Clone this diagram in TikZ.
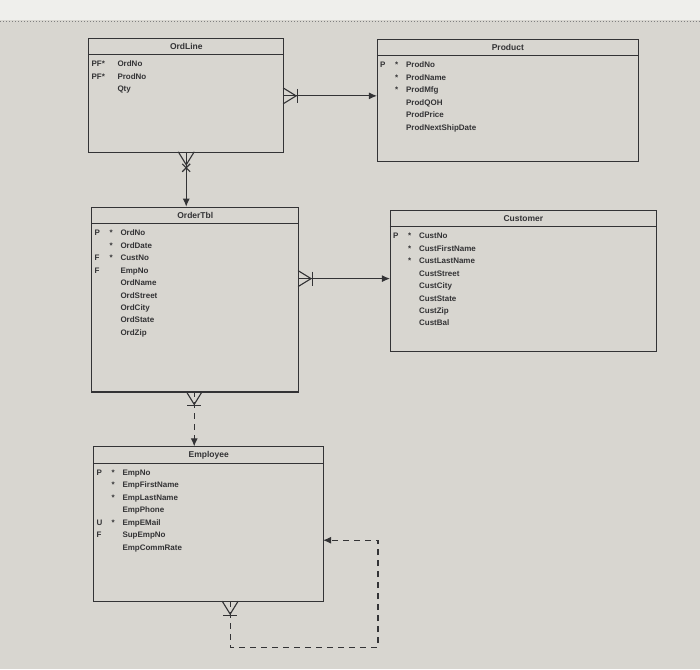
\documentclass[tikz,border=0pt]{standalone}
\usepackage{fontspec}
\setmainfont{Liberation Sans}
\usetikzlibrary{arrows.meta}
\definecolor{bg}{HTML}{D8D6D0}
\definecolor{ink}{HTML}{333335}
\tikzset{
  ebox/.style={draw=ink,line width=1.1pt,anchor=north west,inner sep=0pt},
  etext/.style={anchor=north west,inner sep=0pt,text=ink,font=\fontsize{8}{12.5}\selectfont\bfseries},
  ehead/.style={anchor=center,inner sep=0pt,text=ink,font=\fontsize{8.5}{9}\selectfont\bfseries},
  rel/.style={draw=ink,line width=1.1pt},
  reld/.style={rel,dash pattern=on 6pt off 5pt},
  tip/.style={-{Latex[length=8pt,width=7pt]}}
}
\newcommand{\erbox}[7]{%
  \node[ebox,minimum width=#4pt,minimum height=#5pt] (#1) at (#2pt,-#3pt) {};
  \draw[draw=ink,line width=1.1pt] ([yshift=-17pt]#1.north west) -- ([yshift=-17pt]#1.north east);
  \node[ehead] (#1h) at ([yshift=-9pt]#1.north) {#6};
  \node[etext] (#1t) at ([xshift=3pt,yshift=-20pt]#1.north west)
   {\begin{tabular}{@{}p{15pt}@{}p{11pt}@{}l@{}}#7\end{tabular}};
}
\begin{document}
\begin{tikzpicture}[x=1pt,y=1pt]
\fill[bg] (0,0) rectangle (700,-670);
\fill[white!60!bg] (0,0) rectangle (700,-20);
\draw[gray,dotted,line width=1pt] (0,-22) -- (700,-22);
\erbox{ordline}{88}{38}{195}{114}{OrdLine}{PF* & & OrdNo\\ PF* & & ProdNo\\ & & Qty}
\erbox{product}{377}{39}{261}{122}{Product}{P & * & ProdNo\\ & * & ProdName\\ & * & ProdMfg\\ & & ProdQOH\\ & & ProdPrice\\ & & ProdNextShipDate}
\erbox{order}{91}{207}{207}{185}{OrderTbl}{P & * & OrdNo\\ & * & OrdDate\\ F & * & CustNo\\ F & & EmpNo\\ & & OrdName\\ & & OrdStreet\\ & & OrdCity\\ & & OrdState\\ & & OrdZip}
\erbox{customer}{390}{210}{266}{141}{Customer}{P & * & CustNo\\ & * & CustFirstName\\ & * & CustLastName\\ & & CustStreet\\ & & CustCity\\ & & CustState\\ & & CustZip\\ & & CustBal}
\erbox{emp}{93}{447}{230}{155}{Employee}{P & * & EmpNo\\ & * & EmpFirstName\\ & * & EmpLastName\\ & & EmpPhone\\ U & * & EmpEMail\\ F & & SupEmpNo\\ & & EmpCommRate}
% OrdLine -> Product
\coordinate (a1) at (283,-96);
\draw[rel,tip] (a1) -- (product.west |- a1);
\draw[rel] (283,-88) -- (296,-96) -- (283,-104);
\draw[rel] (297,-89) -- (297,-103);
% OrdLine -> OrderTbl
\coordinate (a2) at (186,-152);
\draw[rel,tip] (a2) -- (order.north -| a2);
\draw[rel] (178,-152) -- (186,-165) -- (194,-152);
\draw[rel] (182,-164) -- (190,-172);\draw[rel] (190,-164) -- (182,-172);
% OrderTbl -> Customer
\coordinate (a3) at (298,-279);
\draw[rel,tip] (a3) -- (customer.west |- a3);
\draw[rel] (298,-271) -- (311,-279) -- (298,-287);
\draw[rel] (312,-272) -- (312,-286);
% OrderTbl -> Employee
\coordinate (a4) at (194,-392);
\draw[reld,tip] (a4) -- (emp.north -| a4);
\draw[rel] (186,-392) -- (194,-405) -- (202,-392);
\draw[rel] (187,-406) -- (201,-406);
% Employee self
\coordinate (a5) at (230,-602);
\coordinate (a6) at (323,-541);
\draw[reld,tip] (a5) -- (230,-648) -- (378,-648) -- (378,-541) -- (a6);
\draw[rel] (222,-602) -- (230,-615) -- (238,-602);
\draw[rel] (223,-616) -- (237,-616);
\end{tikzpicture}
\end{document}
